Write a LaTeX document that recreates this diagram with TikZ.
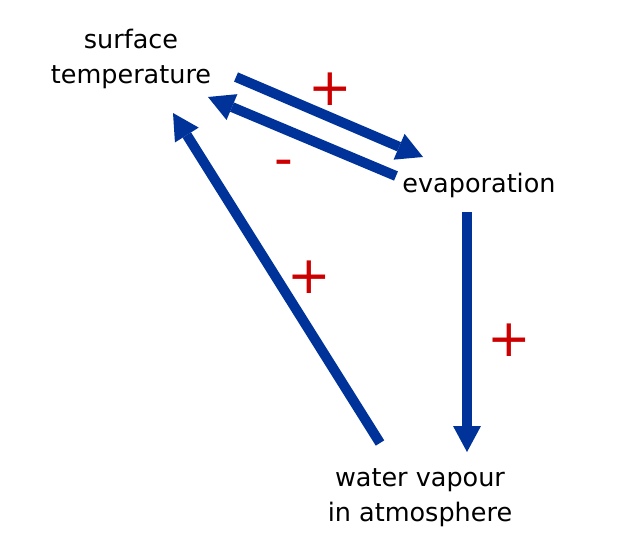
\documentclass[tikz,border=0pt]{standalone}
\usepackage{fontspec}
\setmainfont{DejaVu Sans}
\usetikzlibrary{arrows.meta}
\definecolor{arrowblue}{RGB}{0,51,153}
\definecolor{signred}{RGB}{204,0,0}
\tikzset{
  lbl/.style={font=\fontsize{25.5pt}{35pt}\selectfont, align=center, inner sep=0pt, text=black},
  sign/.style={font=\fontsize{52pt}{52pt}\selectfont, text=signred, inner sep=0pt},
  arr/.style={draw=arrowblue, line width=10pt, -{Triangle[length=26pt,width=28pt,line width=0pt]}},
}
\begin{document}
\begin{tikzpicture}[x=1pt,y=-1pt]
\useasboundingbox (0,0) rectangle (620,554);
\node[lbl] (st) at (131,59) {surface\\temperature};
\node[lbl] (ev) at (479,185) {evaporation};
\node[lbl] (wv) at (420,498) {water vapour\\in atmosphere};
% arrow end points next to the nodes
\coordinate (a1s) at (236,77);
\coordinate (a1e) at (423,157);
\coordinate (a2s) at (396,176);
\coordinate (a2e) at (208,97);
\coordinate (a3s) at (380,443);
\coordinate (a3e) at (173,113);
\coordinate (a4s) at (467,212);
\coordinate (a4e) at (467,452);
\draw[arr] (a1s) -- (a1e);
\draw[arr] (a2s) -- (a2e);
\draw[arr] (a3s) -- (a3e);
\draw[arr] (a4s) -- (a4e);
\node[sign] (p1) at (330,89) {+};
\node[sign] (m1) at (284,168) {-};
\node[sign] (p2) at (309,277) {+};
\node[sign] (p3) at (509,340) {+};
\end{tikzpicture}
\end{document}
